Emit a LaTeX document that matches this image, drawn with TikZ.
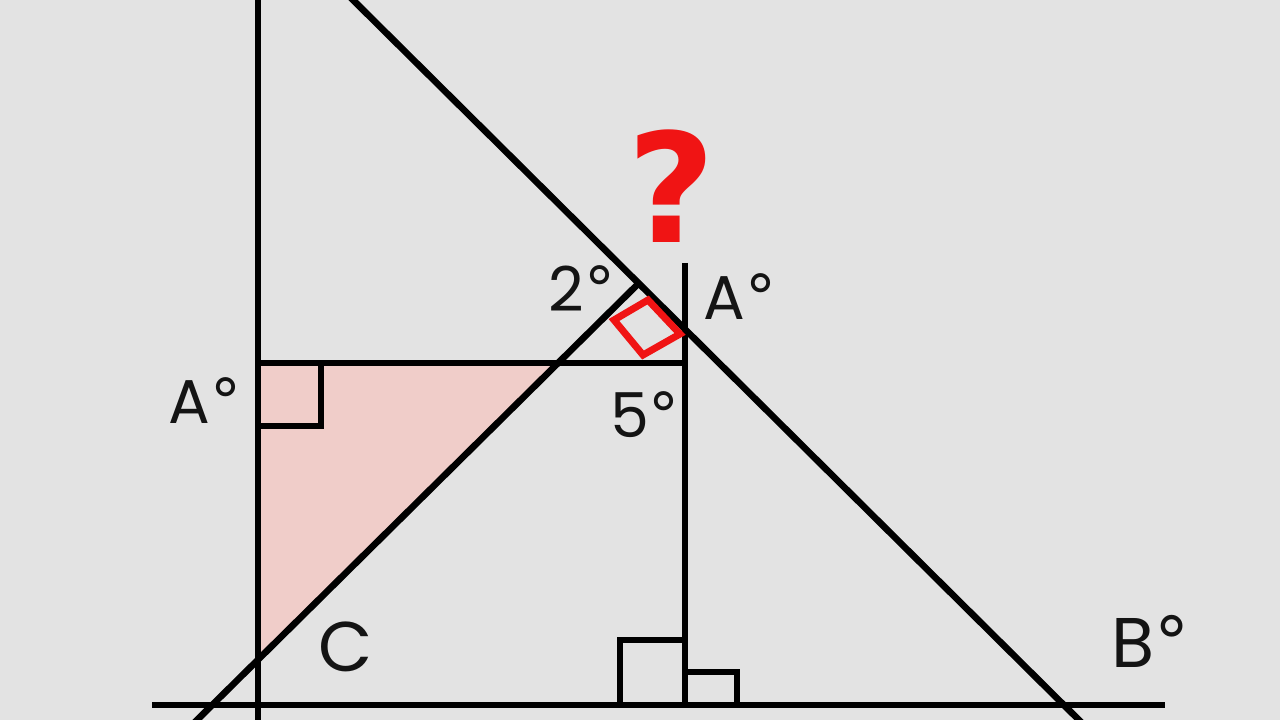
\documentclass[tikz,border=0pt]{standalone}
\usepackage{fontspec}
\setmainfont{Poppins}
\newfontfamily\degfont{DejaVu Sans}
\newfontfamily\qfont{DejaVu Sans}
\newcommand{\dg}{{\degfont °}}
\definecolor{bg}{RGB}{227,227,227}
\definecolor{pinkfill}{RGB}{240,205,201}
\definecolor{qred}{RGB}{240,20,20}
\begin{document}
\begin{tikzpicture}[x=0.025cm,y=-0.025cm,
  ln/.style={line width=4.7pt, line cap=butt},
  redsq/.style={line width=5pt, draw=qred, line join=miter},
  lab/.style={font=\fontsize{44}{44}\selectfont, inner sep=0pt, text=black!92}]
\fill[bg] (0,0) rectangle (1280,720);
\useasboundingbox (0,0) rectangle (1280,720);
\clip (0,0) rectangle (1280,720);
% points
\coordinate (vt) at (258,-5);
\coordinate (vb) at (258,725);
\coordinate (bl) at (152,705);
\coordinate (br) at (1165,705);
\coordinate (dt) at (348,-5);
\coordinate (db) at (1084,725);
\coordinate (et) at (640,282);
\coordinate (eb) at (192,725);
\coordinate (hl) at (258,363);
\coordinate (hr) at (685,363);
\coordinate (hx) at (558,363);
\coordinate (vc) at (258,660);
\coordinate (st) at (685,263);
\coordinate (sb) at (685,705);
% pink triangle
\fill[pinkfill] (hl) -- (hx) -- (vc) -- cycle;
% lines
\draw[ln] (vt) -- (vb);
\draw[ln] (bl) -- (br);
\draw[ln] (dt) -- (db);
\draw[ln] (eb) -- (et);
\draw[ln] (hl) -- (hr);
\draw[ln] (st) -- (sb);
% right angle marks
\draw[ln] (258,426) -- (321,426) -- (321,363);
\draw[ln] (620,705) -- (620,640) -- (685,640);
\draw[ln] (685,672) -- (737,672) -- (737,705);
% red right angle square
\draw[redsq] (614,320) -- (648,300) -- (680,334) -- (643,355) -- cycle;
% labels
\node[font=\fontsize{108}{108}\selectfont\qfont\bfseries, text=qred, inner sep=0pt] (q) at (672,186) {?};
\node[lab] (l2) at (582,289) {2\dg};
\node[lab] (lar) at (740,297) {A\dg};
\node[lab] (lal) at (205,401) {A\dg};
\node[lab] (l5) at (645,415) {5\dg};
\node[lab, font=\fontsize{50}{50}\selectfont] (lc) at (346,647) {C};
\node[lab, font=\fontsize{50}{50}\selectfont] (lb) at (1151,641) {B\dg};
\end{tikzpicture}
\end{document}
